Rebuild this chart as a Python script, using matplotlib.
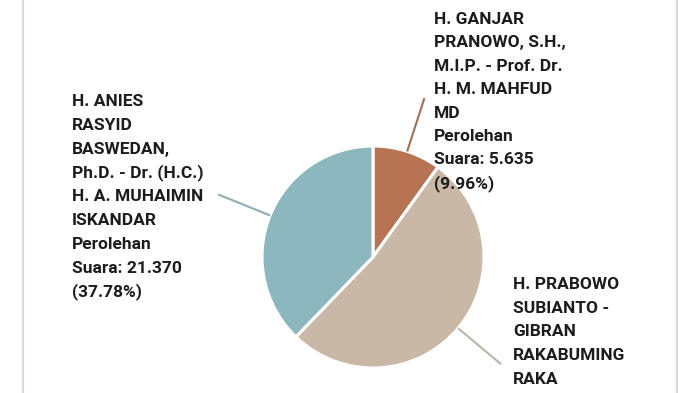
import numpy as np
import matplotlib
matplotlib.use("Agg")
import matplotlib.pyplot as plt

# clockwise from 12 o'clock
names = [
    "H. GANJAR\nPRANOWO, S.H.,\nM.I.P. - Prof. Dr.\nH. M. MAHFUD\nMD",
    "H. PRABOWO\nSUBIANTO -\nGIBRAN\nRAKABUMING\nRAKA",
    "H. ANIES\nRASYID\nBASWEDAN,\nPh.D. - Dr. (H.C.)\nH. A. MUHAIMIN\nISKANDAR",
]
votes = [5635, 29565, 21370]
colors = ["#b87452", "#c8b8a5", "#8db7bf"]
line_colors = ["#a07058", "#bdb3a8", "#8fadb3"]

W, H = 700, 393
fig = plt.figure(figsize=(7, 3.93), dpi=100)
ax = fig.add_axes([0, 0, 1, 1])

cx, cy, r = 373, H - 257, 111
ax.pie(votes, colors=colors, center=(cx, cy), radius=r, startangle=90,
       counterclock=False, frame=True,
       wedgeprops=dict(edgecolor="white", linewidth=2.2, joinstyle="round"))
ax.set_xlim(0, W)
ax.set_ylim(0, H)
ax.set_aspect("equal")
ax.axis("off")

total = sum(votes)
frac = np.array(votes) / total
mids = 90 - (np.cumsum(frac) - frac / 2) * 360

# label anchors: left x, first baseline y (pixels from top), line step
anchors = [(434, 24, 23.4), (513, 289, 23.7), (72, 106, 23.8)]

for i, name in enumerate(names):
    a = np.deg2rad(mids[i])
    ax.plot([cx + r * np.cos(a), cx + 167 * np.cos(a)],
            [cy + r * np.sin(a), cy + 167 * np.sin(a)],
            color=line_colors[i], lw=1.5, solid_capstyle="butt")
    v = "{:,}".format(votes[i]).replace(",", ".")
    lines = name.split("\n") + ["Perolehan", "Suara: " + v,
                                "({:.2f}%)".format(frac[i] * 100)]
    x0, y0, step = anchors[i]
    for k, ln in enumerate(lines):
        yb = y0 + k * step
        if yb - 13 > H:
            # the rest of this label falls below the visible card
            break
        ax.text(x0, H - yb, ln, fontfamily="Roboto",
                fontweight="bold", fontsize=12.5, color="#1c1c1c",
                va="baseline", ha="left")

for x in (23, 677):
    ax.plot([x, x], [0, H], color="#d9d9d9", lw=1.6)

fig.savefig("out.png", dpi=100, facecolor="white")
